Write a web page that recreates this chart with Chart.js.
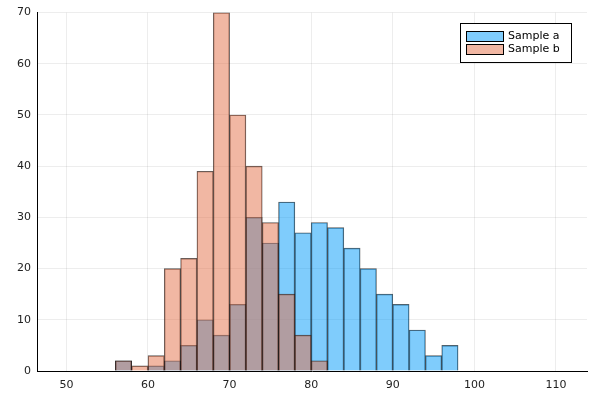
<!DOCTYPE html>
<html>
<head>
<meta charset="utf-8">
<script src="https://cdn.jsdelivr.net/npm/chart.js@4"></script>
<style>
  html, body { margin: 0; padding: 0; background: #fff; }
  #wrap { width: 600px; height: 400px; }
</style>
</head>
<body>
<div id="wrap"><canvas id="hist"></canvas></div>
<script>
// bin centres (bins of width 2, from 56 to 98)
const binCentres = [57, 59, 61, 63, 65, 67, 69, 71, 73, 75, 77, 79, 81, 83, 85, 87, 89, 91, 93, 95, 97];
const sampleA = [2, 0, 1, 2, 5, 10, 7, 13, 30, 25, 33, 27, 29, 28, 24, 20, 15, 13, 8, 3, 5];
const sampleB = [2, 1, 3, 20, 22, 39, 70, 50, 40, 29, 15, 7, 2, 0, 0, 0, 0, 0, 0, 0, 0];
const seriesNames = ["Sample a", "Sample b"];
const xTicks = [50, 60, 70, 80, 90, 100, 110];
const yTicks = [0, 10, 20, 30, 40, 50, 60, 70];

const fillA = "rgba(0,154,250,0.5)";
const fillB = "rgba(227,111,71,0.5)";
const edge = "rgba(0,0,0,0.65)";

const toPoints = vals => binCentres.map((x, i) => ({ x: x, y: vals[i] }));

// legend box drawn in the top-right corner of the plot, like Plots.jl
const boxLegend = {
  id: "boxLegend",
  afterDraw(chart) {
    const ctx = chart.ctx;
    const ds = chart.data.datasets;
    const x0 = 460, y0 = 23, w = 111, h = 39;
    ctx.save();
    ctx.fillStyle = "#fff";
    ctx.fillRect(x0, y0, w, h);
    ctx.strokeStyle = "#000";
    ctx.lineWidth = 1;
    ctx.strokeRect(x0 + 0.5, y0 + 0.5, w, h);
    ctx.font = "11px 'DejaVu Sans', sans-serif";
    ctx.textBaseline = "middle";
    ds.forEach((d, i) => {
      const yy = y0 + 8 + i * 13;
      ctx.fillStyle = d.backgroundColor;
      ctx.fillRect(x0 + 6, yy, 37, 10);
      ctx.strokeStyle = "#000";
      ctx.strokeRect(x0 + 6.5, yy + 0.5, 37, 10);
      ctx.fillStyle = "#000";
      ctx.fillText(d.label, x0 + 48, yy + 5.5);
    });
    ctx.restore();
  }
};

new Chart(document.getElementById("hist"), {
  type: "bar",
  data: {
    datasets: [
      {
        label: seriesNames[0],
        data: toPoints(sampleA),
        backgroundColor: fillA,
        borderColor: edge,
        borderWidth: 0.7,
        grouped: false,
        barPercentage: 1,
        categoryPercentage: 1,
        order: 1
      },
      {
        label: seriesNames[1],
        data: toPoints(sampleB),
        backgroundColor: fillB,
        borderColor: edge,
        borderWidth: 0.7,
        grouped: false,
        barPercentage: 1,
        categoryPercentage: 1,
        order: 0
      }
    ]
  },
  options: {
    responsive: true,
    maintainAspectRatio: false,
    animation: false,
    layout: { padding: { left: 0, right: 13, top: 12, bottom: 0 } },
    plugins: {
      legend: { display: false },
      tooltip: { enabled: false }
    },
    scales: {
      x: {
        type: "linear",
        offset: false,
        min: 46.4,
        max: 113.8,
        afterBuildTicks: s => { s.ticks = xTicks.map(v => ({ value: v })); },
        afterFit: s => { s.height = 29; },
        grid: { color: "rgba(0,0,0,0.07)", drawTicks: false, offset: false },
        border: { color: "#000", width: 1 },
        ticks: { color: "#222", font: { size: 11, family: "'DejaVu Sans', sans-serif" }, padding: 8 }
      },
      y: {
        min: 0,
        max: 70,
        afterBuildTicks: s => { s.ticks = yTicks.map(v => ({ value: v })); },
        afterFit: s => { s.width = 37; },
        grid: { color: "rgba(0,0,0,0.07)", drawTicks: false },
        border: { color: "#000", width: 1 },
        ticks: { color: "#222", font: { size: 11, family: "'DejaVu Sans', sans-serif" }, padding: 6 }
      }
    }
  },
  plugins: [boxLegend]
});
</script>
</body>
</html>
